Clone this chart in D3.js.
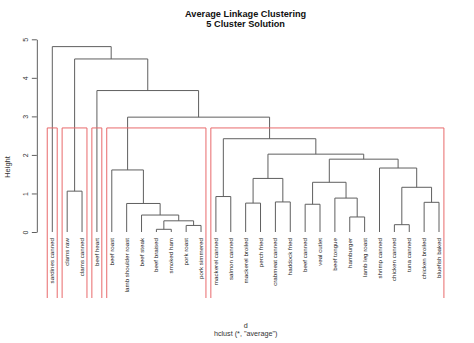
<!DOCTYPE html>
<html>
<head>
<meta charset="utf-8">
<script src="https://cdn.jsdelivr.net/npm/d3@7"></script>
<style>
  html, body { margin: 0; padding: 0; background: #fff; }
  svg { display: block; font-family: "Liberation Sans", Arial, sans-serif; }
</style>
</head>
<body>
<svg id="chart" width="474" height="343"></svg>
<script>
// Leaves in dendrogram order
const leafLabels = [
  "sardines canned", "clams raw", "clams canned", "beef heart", "beef roast",
  "lamb shoulder roast", "beef steak", "beef braised", "smoked ham", "pork roast",
  "pork simmered", "mackerel canned", "salmon canned", "mackerel broiled", "perch fried",
  "crabmeat canned", "haddock fried", "beef canned", "veal cutlet", "beef tongue",
  "hamburger", "lamb leg roast", "shrimp canned", "chicken canned", "tuna canned",
  "chicken broiled", "bluefish baked"
];

// Merge steps (hclust convention: negative = leaf number, positive = earlier step)
const mergePairs = [
  [-8, -9], [-10, -11], [-24, -25], [1, 2], [-21, -22], [-7, 4], [-18, -19],
  [-6, 6], [-14, -15], [-26, -27], [-16, -17], [-20, 5], [-12, -13], [-2, -3],
  [3, 10], [7, 12], [9, 11], [-5, 8], [-23, 15], [16, 19], [17, 20], [13, 21],
  [18, 22], [-4, 23], [14, 24], [-1, 25]
];
const mergeHeights = [
  0.07, 0.17, 0.19, 0.29, 0.39, 0.44, 0.72, 0.74, 0.75, 0.77, 0.78, 0.88, 0.92,
  1.06, 1.16, 1.29, 1.39, 1.61, 1.66, 1.89, 2.02, 2.42, 2.98, 3.67, 4.49, 4.81
];

const heightTicks = [0, 1, 2, 3, 4, 5];
const clusterCount = 5;
const clusterSizes = [1, 2, 1, 7, 16];

const titleLines = ["Average Linkage Clustering", "5 Cluster Solution"];
const xLabel = "d";
const subLabel = 'hclust (*, "average")';
const yLabel = "Height";

const svg = d3.select("#chart");
const lineColor = "#5f5f5f";
const rectColor = "#e8696b";

const n = leafLabels.length;
const x = d3.scaleLinear().domain([1, n]).range([52.3, 439]);
const y = d3.scaleLinear().domain([0, 5]).range([232, 39.3]);
const plotBottom = 298;
const plotLeft = x(1 - 0.04 * (n - 1));
const plotRight = x(n + 0.04 * (n - 1));
const plotCenterX = (plotLeft + plotRight) / 2;

// Node positions
const nodeX = [], nodeH = [];
function childPos(id) {
  if (id < 0) return { x: x(-id), h: 0 };
  return { x: nodeX[id - 1], h: nodeH[id - 1] };
}
mergePairs.forEach((pair, i) => {
  const a = childPos(pair[0]), b = childPos(pair[1]);
  nodeX[i] = (a.x + b.x) / 2;
  nodeH[i] = mergeHeights[i];
});

// Dendrogram branches
const g = svg.append("g").attr("fill", "none").attr("stroke", lineColor).attr("stroke-width", 1);
mergePairs.forEach((pair, i) => {
  const a = childPos(pair[0]), b = childPos(pair[1]);
  const hy = y(mergeHeights[i]);
  const path = d3.path();
  path.moveTo(a.x, y(a.h));
  path.lineTo(a.x, hy);
  path.lineTo(b.x, hy);
  path.lineTo(b.x, y(b.h));
  g.append("path").attr("d", path.toString());
});

// Leaf labels
svg.append("g").selectAll("text").data(leafLabels).join("text")
  .attr("transform", (d, i) => `translate(${x(i + 1) + 2},${y(0) + 6}) rotate(-90)`)
  .attr("text-anchor", "end")
  .attr("font-size", 6.2)
  .attr("fill", "#222")
  .text(d => d);

// Cluster rectangles, open at the plot-region edge below
const sortedH = mergeHeights.slice().sort((p, q) => q - p);
const rectTop = (sortedH[clusterCount - 2] + sortedH[clusterCount - 1]) / 2;
let cum = 0;
const rg = svg.append("g").attr("fill", "none").attr("stroke", rectColor).attr("stroke-width", 1);
clusterSizes.forEach(sz => {
  const left = x(cum + 0.66), right = x(cum + sz + 0.33);
  const p = d3.path();
  p.moveTo(left, plotBottom);
  p.lineTo(left, y(rectTop));
  p.lineTo(right, y(rectTop));
  p.lineTo(right, plotBottom);
  rg.append("path").attr("d", p.toString());
  cum += sz;
});

// Y axis
const yAxis = d3.axisLeft(y).tickValues(heightTicks).tickSize(5).tickSizeOuter(0).tickFormat(d3.format("d"));
const ax = svg.append("g").attr("transform", `translate(${plotLeft},0)`).call(yAxis);
ax.select(".domain").attr("stroke", lineColor);
ax.selectAll(".tick line").attr("stroke", lineColor);
ax.selectAll(".tick text")
  .attr("font-size", 7)
  .attr("fill", "#333")
  .attr("x", null).attr("dy", null)
  .attr("text-anchor", "middle")
  .attr("transform", "translate(-11,0) rotate(-90)")
  .attr("y", 2.5);

// Axis title
svg.append("text")
  .attr("transform", `translate(10,167) rotate(-90)`)
  .attr("text-anchor", "middle")
  .attr("font-size", 7.5)
  .attr("fill", "#333")
  .text(yLabel);

// Title
svg.append("g").selectAll("text").data(titleLines).join("text")
  .attr("x", plotCenterX)
  .attr("y", (d, i) => 17 + i * 10.2)
  .attr("text-anchor", "middle")
  .attr("font-weight", "bold")
  .attr("font-size", 9.2)
  .attr("fill", "#111")
  .text(d => d);

// Bottom labels
svg.append("text").attr("x", plotCenterX).attr("y", 328)
  .attr("text-anchor", "middle").attr("font-size", 7.2).attr("fill", "#333").text(xLabel);
svg.append("text").attr("x", plotCenterX).attr("y", 336)
  .attr("text-anchor", "middle").attr("font-size", 7.2).attr("fill", "#333").text(subLabel);
</script>
</body>
</html>
